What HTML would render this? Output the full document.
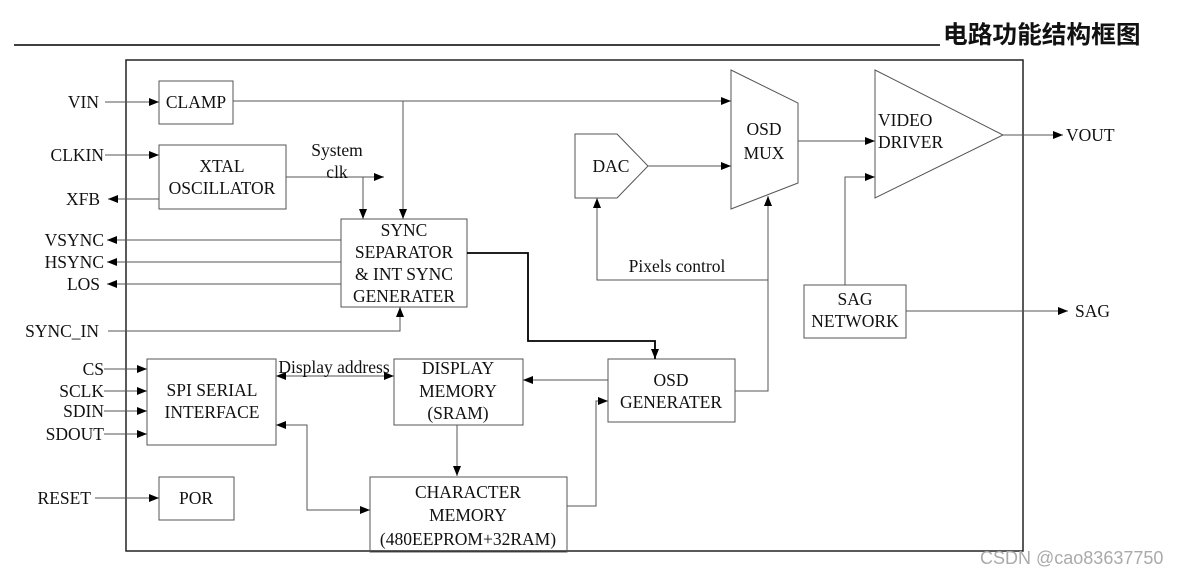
<!DOCTYPE html>
<html><head><meta charset="utf-8"><style>
html,body{margin:0;padding:0;background:#fff;}
svg{display:block;}
text{font-family:"Liberation Serif",serif;font-size:17.5px;fill:#111;}
</style></head><body>
<svg width="1178" height="574" viewBox="0 0 1178 574" xmlns="http://www.w3.org/2000/svg">
<defs>
<marker id="a" markerWidth="10" markerHeight="8" refX="10" refY="4" orient="auto" markerUnits="userSpaceOnUse"><path d="M0,0 L10,4 L0,8 z" fill="#000"/></marker>
<marker id="s" markerWidth="10" markerHeight="8" refX="0" refY="4" orient="auto" markerUnits="userSpaceOnUse"><path d="M10,0 L0,4 L10,8 z" fill="#000"/></marker>
</defs>
<line x1="14" y1="45" x2="940" y2="45" stroke="#000" stroke-width="1.5"/>
<text x="943" y="43" style="font-family:'Liberation Sans','Noto Sans CJK SC',sans-serif;font-size:24.7px;font-weight:bold">电路功能结构框图</text>
<rect x="126" y="60" width="897" height="491" fill="none" stroke="#222" stroke-width="1.5"/>
<g fill="none" stroke="#555" stroke-width="1">
<rect x="159" y="81" width="74" height="43"/>
<rect x="159" y="145" width="127" height="64"/>
<rect x="341" y="219" width="126" height="88"/>
<rect x="804" y="285" width="102" height="53"/>
<rect x="608" y="359" width="127" height="63"/>
<rect x="394" y="359" width="129" height="66"/>
<rect x="147" y="359" width="129" height="86"/>
<rect x="370" y="477" width="197" height="75"/>
<rect x="159" y="477" width="75" height="43"/>
<polygon points="575,134 617,134 648,166 617,198 575,198"/>
<polygon points="731,70 798,103 798,183 731,209"/>
<polygon points="875,70 1003,135 875,198"/>
</g>
<g fill="none" stroke="#555" stroke-width="1">
<line x1="105" y1="102" x2="159" y2="102" marker-end="url(#a)"/>
<line x1="105" y1="155" x2="159" y2="155" marker-end="url(#a)"/>
<line x1="159" y1="199" x2="108" y2="199" marker-end="url(#a)"/>
<line x1="233" y1="101" x2="731" y2="101" marker-end="url(#a)"/>
<line x1="403" y1="101" x2="403" y2="219" marker-end="url(#a)"/>
<line x1="286" y1="177" x2="384" y2="177" marker-end="url(#a)"/>
<line x1="363" y1="177" x2="363" y2="219" marker-end="url(#a)"/>
<line x1="341" y1="240" x2="107" y2="240" marker-end="url(#a)"/>
<line x1="341" y1="262" x2="107" y2="262" marker-end="url(#a)"/>
<line x1="341" y1="284" x2="107" y2="284" marker-end="url(#a)"/>
<polyline points="108,331 400,331 400,307" marker-end="url(#a)"/>
<polyline points="467,253 528,253 528,341 655,341 655,359" stroke="#000" stroke-width="1.8" marker-end="url(#a)"/>
<line x1="648" y1="166" x2="731" y2="166" marker-end="url(#a)"/>
<line x1="798" y1="141" x2="875" y2="141" marker-end="url(#a)"/>
<line x1="1003" y1="135" x2="1063" y2="135" marker-end="url(#a)"/>
<polyline points="845,285 845,177 875,177" marker-end="url(#a)"/>
<polyline points="768,280 597,280 597,198" marker-end="url(#a)"/>
<polyline points="735,391 768,391 768,196" marker-end="url(#a)"/>
<line x1="906" y1="311" x2="1068" y2="311" marker-end="url(#a)"/>
<line x1="608" y1="380" x2="523" y2="380" marker-end="url(#a)"/>
<line x1="276" y1="376" x2="394" y2="376" marker-start="url(#s)" marker-end="url(#a)"/>
<line x1="457" y1="425" x2="457" y2="476" marker-end="url(#a)"/>
<polyline points="276,425 307,425 307,510 370,510" marker-start="url(#s)" marker-end="url(#a)"/>
<polyline points="567,506 596,506 596,401 608,401" marker-end="url(#a)"/>
<line x1="104" y1="369" x2="147" y2="369" marker-end="url(#a)"/>
<line x1="104" y1="391" x2="147" y2="391" marker-end="url(#a)"/>
<line x1="104" y1="411" x2="147" y2="411" marker-end="url(#a)"/>
<line x1="104" y1="434" x2="147" y2="434" marker-end="url(#a)"/>
<line x1="95" y1="498" x2="159" y2="498" marker-end="url(#a)"/>
</g>
<g text-anchor="end">
<text x="99" y="108">VIN</text>
<text x="104" y="161">CLKIN</text>
<text x="100" y="205">XFB</text>
<text x="104" y="246">VSYNC</text>
<text x="104" y="268">HSYNC</text>
<text x="100" y="290">LOS</text>
<text x="99" y="337">SYNC_IN</text>
<text x="104" y="375">CS</text>
<text x="104" y="397">SCLK</text>
<text x="104" y="417">SDIN</text>
<text x="104" y="440">SDOUT</text>
<text x="91" y="504">RESET</text>
</g>
<g text-anchor="middle">
<text x="196" y="108">CLAMP</text>
<text x="222" y="172">XTAL</text>
<text x="222" y="194">OSCILLATOR</text>
<text x="337" y="156">System</text>
<text x="337" y="178">clk</text>
<text x="404" y="236">SYNC</text>
<text x="404" y="258">SEPARATOR</text>
<text x="404" y="280">&amp; INT SYNC</text>
<text x="404" y="302">GENERATER</text>
<text x="611" y="172">DAC</text>
<text x="764" y="135">OSD</text>
<text x="764" y="159">MUX</text>
<text x="677" y="272">Pixels control</text>
<text x="855" y="305">SAG</text>
<text x="855" y="327">NETWORK</text>
<text x="671" y="386">OSD</text>
<text x="671" y="408">GENERATER</text>
<text x="458" y="374">DISPLAY</text>
<text x="458" y="397">MEMORY</text>
<text x="458" y="419">(SRAM)</text>
<text x="334" y="373">Display address</text>
<text x="212" y="396">SPI SERIAL</text>
<text x="212" y="418">INTERFACE</text>
<text x="468" y="498">CHARACTER</text>
<text x="468" y="521">MEMORY</text>
<text x="468" y="545">(480EEPROM+32RAM)</text>
<text x="196" y="504">POR</text>
</g>
<text x="878" y="126">VIDEO</text>
<text x="878" y="148">DRIVER</text>
<text x="1066" y="141">VOUT</text>
<text x="1075" y="317">SAG</text>
<text x="980" y="564" style="font-family:'Liberation Sans',sans-serif;font-size:18px;fill:#aaa">CSDN @cao83637750</text>
</svg>
</body></html>
